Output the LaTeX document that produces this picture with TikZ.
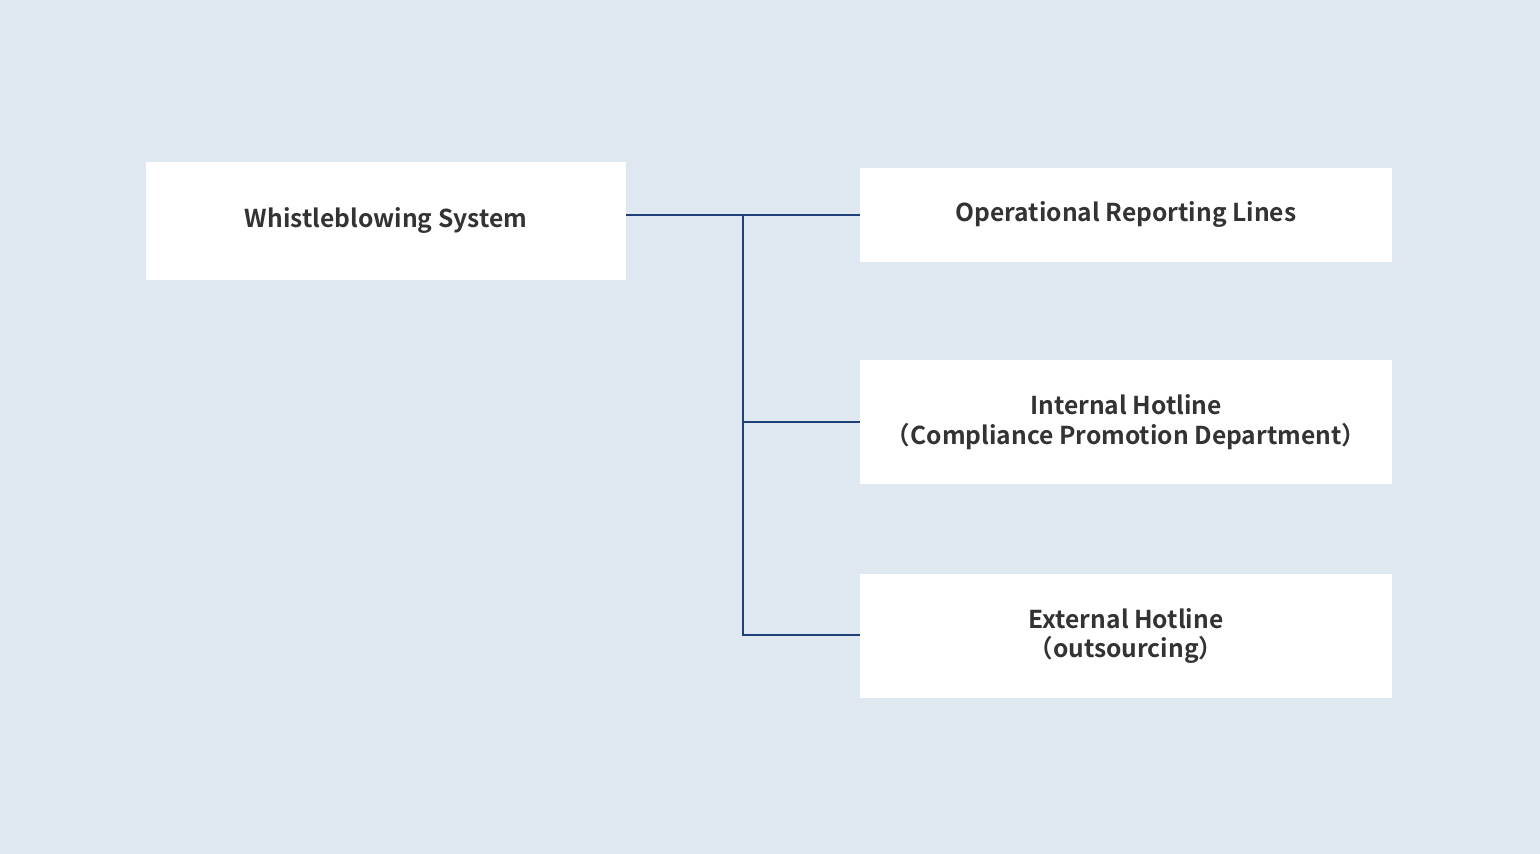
\documentclass[tikz,border=0pt]{standalone}
\usepackage{fontspec}
\setmainfont{Noto Sans CJK JP}[BoldFont={* Bold}]
\usepackage{tikz}
\definecolor{bgblue}{HTML}{DFE8F1}
\definecolor{linenavy}{HTML}{1F3F78}
\definecolor{txtgray}{HTML}{333333}

\begin{document}
\begin{tikzpicture}
                            [x=0.02cm,y=-0.02cm,
                            box/.style = {fill=white,
                                        inner sep=0pt,
                                        align=center,
                                        text=txtgray,
                                        font=\fontsize{14}{17}\selectfont\bfseries,
                                        minimum width=532*0.02cm,
                                        minimum height=124*0.02cm},
                            link/.style = {draw=linenavy,line width=1.3pt}]
                            \fill[bgblue] (0,0) rectangle (1540,854);
                            % Main box
                            \node[box,minimum width=480*0.02cm,minimum height=118*0.02cm] (sys) at (386,221) {Whistleblowing System};
                            % Channels
                            \node[box,minimum height=94*0.02cm] (ops) at (1126,215) {Operational Reporting Lines};
                            \node[box] (internal) at (1126,422) {Internal Hotline\\（Compliance Promotion Department）};
                            \node[box] (external) at (1126,636) {External Hotline\\（outsourcing）};
                            % Branch points
                            \coordinate (top) at (743,215);
                            \coordinate (bot) at (743,635);
                            % Connectors
                            \draw[link] (sys.east |- ops.west) -- (ops.west);
                            \draw[link] (top) -- (bot) -- (external.west |- bot);
                            \draw[link] (top |- internal.west) -- (internal.west);
                        \end{tikzpicture}
\end{document}
